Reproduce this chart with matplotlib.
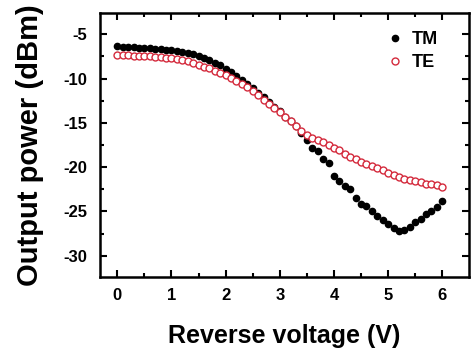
import matplotlib
matplotlib.use("Agg")
import matplotlib.pyplot as plt
import numpy as np
from matplotlib.ticker import MultipleLocator

plt.rcParams['font.family'] = ['Liberation Sans', 'DejaVu Sans']
plt.rcParams['axes.unicode_minus'] = False

# reverse voltage (V)
voltage = [0.0, 0.1, 0.2, 0.3, 0.4, 0.5, 0.6, 0.7, 0.8, 0.9,
           1.0, 1.1, 1.2, 1.3, 1.4, 1.5, 1.6, 1.7, 1.8, 1.9,
           2.0, 2.1, 2.2, 2.3, 2.4, 2.5, 2.6, 2.7, 2.8, 2.9,
           3.0, 3.1, 3.2, 3.3, 3.4, 3.5, 3.6, 3.7, 3.8, 3.9,
           4.0, 4.1, 4.2, 4.3, 4.4, 4.5, 4.6, 4.7, 4.8, 4.9,
           5.0, 5.1, 5.2, 5.3, 5.4, 5.5, 5.6, 5.7, 5.8, 5.9, 6.0]

# output power (dBm)
tm_power = [-6.3, -6.4, -6.45, -6.4, -6.5, -6.5, -6.55, -6.6, -6.65, -6.75,
            -6.8, -6.85, -7.0, -7.1, -7.25, -7.45, -7.7, -7.95, -8.2, -8.5,
            -8.9, -9.3, -9.7, -10.1, -10.6, -11.1, -11.6, -12.1, -12.6, -13.2,
            -13.7, -14.3, -14.8, -15.4, -16.1, -16.9, -17.8, -18.2, -19.1, -19.5,
            -21.0, -21.6, -22.1, -22.5, -23.5, -24.1, -24.4, -25.0, -25.5, -26.0,
            -26.4, -26.9, -27.2, -27.1, -26.8, -26.2, -25.8, -25.3, -25.0, -24.5, -23.8]

te_power = [-7.35, -7.35, -7.35, -7.4, -7.4, -7.45, -7.5, -7.55, -7.6, -7.65,
            -7.7, -7.8, -7.9, -8.05, -8.25, -8.45, -8.65, -8.85, -9.1, -9.35,
            -9.6, -9.9, -10.25, -10.6, -11.0, -11.45, -11.9, -12.4, -12.9, -13.3,
            -13.75, -14.3, -14.8, -15.3, -15.9, -16.4, -16.7, -16.9, -17.2, -17.5,
            -17.8, -18.1, -18.5, -18.8, -19.1, -19.4, -19.6, -19.85, -20.1, -20.35,
            -20.6, -20.9, -21.1, -21.3, -21.45, -21.6, -21.7, -21.85, -21.95, -22.05, -22.2]

fig = plt.figure(figsize=(4.74, 3.54), dpi=100)
ax = fig.add_axes([0.211, 0.2175, 0.778, 0.7455])

ax.plot(voltage, tm_power, 'o', color='black', markersize=4.5, label='TM')
ax.plot(voltage, te_power, 'o', markerfacecolor='white', markeredgecolor='#d42a3c',
        markeredgewidth=1.0, markersize=5, label='TE')

ax.set_xlim(-0.32, 6.49)
ax.set_ylim(-32.4, -2.6)
ax.xaxis.set_major_locator(MultipleLocator(1))
ax.xaxis.set_minor_locator(MultipleLocator(0.5))
ax.yaxis.set_major_locator(MultipleLocator(5))
ax.yaxis.set_minor_locator(MultipleLocator(2.5))

ax.tick_params(which='both', direction='in', top=True, right=True, width=1.5)
ax.tick_params(which='major', length=5, labelsize=12)
ax.tick_params(which='minor', length=3)
ax.tick_params(axis='x', which='major', pad=8)
ax.tick_params(axis='y', which='major', pad=9)
for label in ax.get_xticklabels() + ax.get_yticklabels():
    label.set_fontweight('bold')

for spine in ax.spines.values():
    spine.set_linewidth(1.8)

ax.set_xlabel('Reverse voltage (V)', fontsize=18, fontweight='bold', labelpad=15)
ax.set_ylabel('Output power (dBm)', fontsize=21, fontweight='bold', labelpad=14)

ax.legend(loc='upper right', bbox_to_anchor=(0.935, 0.96), frameon=False,
          prop={'size': 13, 'weight': 'bold'}, handlelength=1.0,
          handletextpad=0.4, borderaxespad=0.0, labelspacing=0.35)

fig.savefig('out.png', dpi=100)
